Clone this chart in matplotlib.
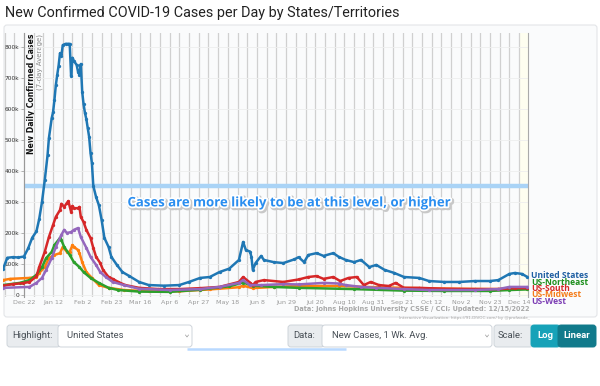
import matplotlib
matplotlib.use("Agg")
import matplotlib.pyplot as plt
import matplotlib.dates as mdates
import matplotlib.patheffects as pe
from matplotlib.patches import FancyBboxPatch
from matplotlib.ticker import FixedLocator, FuncFormatter
import pandas as pd

W, H = 600, 386

# --- data (7-day avg new cases, thousands) ---
us_dates = ["2021-12-07", "2021-12-10", "2021-12-14", "2021-12-18", "2021-12-22", "2021-12-25",
            "2021-12-28", "2021-12-31", "2022-01-02", "2022-01-04", "2022-01-06", "2022-01-08",
            "2022-01-09", "2022-01-11", "2022-01-12", "2022-01-13", "2022-01-14", "2022-01-15",
            "2022-01-16", "2022-01-17", "2022-01-18", "2022-01-19", "2022-01-21", "2022-01-23",
            "2022-01-24", "2022-01-25", "2022-01-26", "2022-01-27", "2022-01-29", "2022-01-30",
            "2022-01-31", "2022-02-01", "2022-02-02", "2022-02-03", "2022-02-04", "2022-02-05",
            "2022-02-06", "2022-02-07", "2022-02-08", "2022-02-09", "2022-02-10", "2022-02-12",
            "2022-02-14", "2022-02-16", "2022-02-18", "2022-02-21", "2022-02-23", "2022-02-27",
            "2022-03-03", "2022-03-08", "2022-03-15", "2022-03-22", "2022-04-02", "2022-04-13",
            "2022-04-20", "2022-04-28", "2022-05-05", "2022-05-12", "2022-05-19", "2022-05-26",
            "2022-05-29", "2022-05-31", "2022-06-03", "2022-06-04", "2022-06-05", "2022-06-07",
            "2022-06-11", "2022-06-13", "2022-06-20", "2022-06-27", "2022-07-05", "2022-07-08",
            "2022-07-12", "2022-07-15", "2022-07-21", "2022-07-26", "2022-08-02", "2022-08-06",
            "2022-08-11", "2022-08-17", "2022-08-22", "2022-08-28", "2022-09-02", "2022-09-08",
            "2022-09-15", "2022-09-22", "2022-10-03", "2022-10-10", "2022-10-21", "2022-11-01",
            "2022-11-12", "2022-11-23", "2022-11-29", "2022-12-07", "2022-12-11", "2022-12-16",
            "2022-12-20"]
us_cases = [85, 120, 122, 121, 124, 150,
            185, 205, 245, 300, 370, 450,
            506, 570, 590, 630, 677, 710,
            740, 780, 772, 806, 810, 810,
            810, 706, 765, 755, 742, 720,
            710, 745, 655, 615, 587, 567,
            538, 510, 458, 425, 352, 316,
            290, 242, 184, 155, 123, 97,
            74, 61, 42, 32, 30, 32,
            42, 55, 58, 74, 85, 113,
            171, 145, 140, 123, 81, 103,
            126, 113, 106, 103, 115, 122,
            106, 129, 135, 126, 135, 123,
            113, 106, 113, 90, 97, 81,
            71, 58, 55, 45, 42, 42,
            45, 45, 48, 68, 71, 68,
            58]

south_dates = ["2021-12-07", "2021-12-14", "2021-12-21", "2021-12-26", "2021-12-31", "2022-01-02",
               "2022-01-06", "2022-01-09", "2022-01-12", "2022-01-14", "2022-01-17", "2022-01-18",
               "2022-01-20", "2022-01-22", "2022-01-23", "2022-01-25", "2022-01-26", "2022-01-27",
               "2022-01-30", "2022-01-31", "2022-02-01", "2022-02-03", "2022-02-05", "2022-02-08",
               "2022-02-10", "2022-02-12", "2022-02-15", "2022-02-17", "2022-02-21", "2022-02-24",
               "2022-02-28", "2022-03-05", "2022-03-15", "2022-03-29", "2022-04-13", "2022-04-28",
               "2022-05-12", "2022-05-26", "2022-05-29", "2022-06-03", "2022-06-05", "2022-06-07",
               "2022-06-13", "2022-06-27", "2022-07-08", "2022-07-15", "2022-07-21", "2022-07-26",
               "2022-08-02", "2022-08-07", "2022-08-13", "2022-08-19", "2022-08-24", "2022-08-29",
               "2022-09-04", "2022-09-11", "2022-09-16", "2022-09-22", "2022-10-03", "2022-10-21",
               "2022-11-12", "2022-11-29", "2022-12-11", "2022-12-20"]
south_cases = [30, 35, 38, 42, 60, 90,
               139, 187, 226, 252, 274, 294,
               284, 297, 303, 268, 287, 280,
               280, 284, 252, 235, 210, 184,
               152, 123, 103, 81, 58, 52,
               42, 32, 23, 19, 19, 22,
               26, 42, 58, 40, 32, 42,
               48, 42, 50, 58, 61, 52,
               58, 45, 55, 58, 32, 42,
               32, 29, 39, 23, 23, 20,
               19, 19, 22, 22]

midwest_dates = ["2021-12-07", "2021-12-12", "2021-12-26", "2021-12-31", "2022-01-02", "2022-01-06",
                 "2022-01-09", "2022-01-13", "2022-01-17", "2022-01-19", "2022-01-22", "2022-01-24",
                 "2022-01-26", "2022-01-27", "2022-01-30", "2022-01-31", "2022-02-02", "2022-02-05",
                 "2022-02-09", "2022-02-14", "2022-02-21", "2022-03-04", "2022-03-22", "2022-04-13",
                 "2022-05-05", "2022-05-26", "2022-05-29", "2022-06-05", "2022-06-20", "2022-07-08",
                 "2022-08-06", "2022-09-02", "2022-10-03", "2022-11-01", "2022-11-29", "2022-12-20"]
midwest_cases = [48, 52, 55, 58, 71, 90,
                 119, 129, 135, 155, 139, 139,
                 161, 155, 145, 135, 106, 74,
                 55, 32, 23, 16, 12, 12,
                 18, 25, 30, 22, 26, 29,
                 29, 25, 22, 20, 19, 21]

northeast_dates = ["2021-12-07", "2021-12-19", "2021-12-26", "2021-12-31", "2022-01-04", "2022-01-07",
                   "2022-01-11", "2022-01-13", "2022-01-17", "2022-01-18", "2022-01-20", "2022-01-24",
                   "2022-01-27", "2022-01-31", "2022-02-03", "2022-02-08", "2022-02-14", "2022-02-21",
                   "2022-02-28", "2022-03-15", "2022-04-06", "2022-04-28", "2022-05-19", "2022-05-29",
                   "2022-06-05", "2022-06-20", "2022-07-08", "2022-08-17", "2022-09-22", "2022-10-21",
                   "2022-11-23", "2022-12-07", "2022-12-20"]
northeast_cases = [32, 39, 48, 65, 90, 119,
                   139, 161, 184, 177, 155, 129,
                   106, 90, 74, 55, 39, 23,
                   16, 11, 10, 17, 28, 40,
                   30, 26, 23, 19, 14, 13,
                   13, 16, 18]

west_dates = ["2021-12-07", "2021-12-26", "2021-12-31", "2022-01-04", "2022-01-07", "2022-01-11",
              "2022-01-14", "2022-01-18", "2022-01-20", "2022-01-22", "2022-01-25", "2022-01-27",
              "2022-01-30", "2022-02-01", "2022-02-05", "2022-02-08", "2022-02-12", "2022-02-15",
              "2022-02-19", "2022-02-24", "2022-03-04", "2022-03-15", "2022-04-06", "2022-04-28",
              "2022-05-12", "2022-05-26", "2022-05-29", "2022-06-03", "2022-06-11", "2022-06-27",
              "2022-07-08", "2022-07-26", "2022-08-06", "2022-08-11", "2022-08-22", "2022-09-02",
              "2022-09-22", "2022-10-10", "2022-11-12", "2022-11-29", "2022-12-07", "2022-12-20"]
west_cases = [23, 26, 39, 55, 81, 119,
              155, 194, 210, 200, 203, 210,
              216, 187, 152, 123, 97, 74,
              58, 42, 32, 20, 16, 19,
              26, 39, 48, 32, 32, 35,
              34, 39, 37, 32, 26, 23,
              19, 16, 16, 19, 26, 26]

level_line = 352  # thousands
series = [
    ("US-Midwest", midwest_dates, midwest_cases, "#ff7f0e"),
    ("US-Northeast", northeast_dates, northeast_cases, "#2ca02c"),
    ("US-South", south_dates, south_cases, "#d62728"),
    ("US-West", west_dates, west_cases, "#9467bd"),
    ("United States", us_dates, us_cases, "#1f77b4"),
]
legend_order = ["United States", "US-Northeast", "US-South", "US-Midwest", "US-West"]
legend_colors = {"United States": "#1f5fa3", "US-Northeast": "#1e8f1e", "US-South": "#d62728",
                 "US-Midwest": "#f57d1a", "US-West": "#7d3fb5"}

fig = plt.figure(figsize=(W / 100, H / 100), dpi=100)
fig.patch.set_facecolor("white")

# background / page elements in pixel coordinates
bg = fig.add_axes([0, 0, 1, 1], zorder=0)
bg.set_xlim(0, W)
bg.set_ylim(H, 0)
bg.axis("off")

bg.text(5, 13, "New Confirmed COVID-19 Cases per Day by States/Territories",
        fontsize=10.4, family="Roboto", color="#222222", va="center", ha="left")
bg.add_patch(FancyBboxPatch((4, 25), 593, 292, boxstyle="round,pad=0,rounding_size=3",
                            fc="#fafbfc", ec="#e3e5e8", lw=0.8))

# control bar
def ctl(x0, x1, fc, ec):
    bg.add_patch(FancyBboxPatch((x0, 325), x1 - x0, 22, boxstyle="round,pad=0,rounding_size=3",
                                fc=fc, ec=ec, lw=0.7))

ctl(7, 60, "#e9ecef", "#ced4da")
ctl(58, 192, "white", "#ced4da")
ctl(288, 324, "#e9ecef", "#ced4da")
ctl(322, 492, "white", "#ced4da")
ctl(494, 533, "#e9ecef", "#ced4da")
ctl(531, 560, "#17a2b8", "#17a2b8")
ctl(558, 596, "#117a8b", "#117a8b")
ui = dict(fontsize=6.8, family="Roboto", va="center", color="#495057")
bg.text(12, 336, "Highlight:", **ui)
bg.text(67, 336, "United States", **ui)
bg.text(293, 336, "Data:", **ui)
bg.text(332, 336, "New Cases, 1 Wk. Avg.", **ui)
bg.text(498, 336, "Scale:", **ui)
bg.text(545, 336, "Log", fontsize=6.8, family="Roboto", va="center", ha="center",
        color="white", weight="bold")
bg.text(577, 336, "Linear", fontsize=6.8, family="Roboto", va="center", ha="center",
        color="white", weight="bold")
for cx in (187, 487):
    bg.plot([cx - 1.5, cx, cx + 1.5], [335, 337, 335], color="#999999", lw=0.5)
bg.plot([187, 346], [349, 349], color="#b9d9ff", lw=1.8, solid_capstyle="butt")

# y label
bg.text(32, 34, "New Daily Confirmed Cases", rotation=90, ha="center", va="top",
        fontsize=5.6, weight="bold", color="#111111")
bg.text(40, 34, "(7-day Average)", rotation=90, ha="center", va="top",
        fontsize=5.0, color="#8a8a8a")

# main chart
ax = fig.add_axes([3 / W, 1 - 297 / H, 525 / W, 264 / H], zorder=2)
ax.set_facecolor("none")
base = pd.Timestamp("2021-12-22")
x_left = base - pd.Timedelta(days=15.1)
x_right = base + pd.Timedelta(days=363.4)
ax.set_xlim(x_left, x_right)
ax.set_ylim(-6.5, 845)

ax.axvspan(pd.Timestamp("2022-12-14"), x_right, color="#fefef0", zorder=0, lw=0)

major = pd.date_range("2021-12-22", "2022-12-14", freq="21D")
minor = pd.date_range("2021-12-08", "2022-12-14", freq="7D")
ax.xaxis.set_major_locator(FixedLocator(mdates.date2num(major)))
ax.xaxis.set_minor_locator(FixedLocator(mdates.date2num(minor)))
ax.xaxis.set_major_formatter(FuncFormatter(
    lambda v, _: mdates.num2date(v).strftime("%b ") + str(mdates.num2date(v).day)))
ax.tick_params(axis="x", which="both", length=0, labelsize=4.6, labelcolor="#9a9a9a", pad=2.5)
ax.grid(axis="x", which="both", color="#d0d0d0", lw=0.9, zorder=0)

ax.set_yticks(range(0, 801, 100))
ax.set_yticklabels(["0"] + [f"{v}k" for v in range(100, 801, 100)])
ax.tick_params(axis="y", length=2.5, width=0.5, color="#999999", labelsize=4.2,
               labelcolor="#333333", pad=1)
ax.grid(axis="y", color="#eeeeee", lw=0.6, zorder=0)
ax.set_axisbelow(True)

for side in ("top", "bottom"):
    ax.spines[side].set_visible(False)
ax.spines["left"].set_position(("data", mdates.date2num(base)))
ax.spines["left"].set_color("#999999")
ax.spines["left"].set_linewidth(0.8)
ax.spines["right"].set_color("#aaaaaa")
ax.spines["right"].set_linewidth(0.8)

ax.hlines(level_line, base, x_right, color="#a9d3f6", lw=3.2, zorder=1)
ax.text(pd.Timestamp("2022-07-02"), 297, "Cases are more likely to be at this level, or higher",
        ha="center", va="center", fontsize=9.5, weight="bold", family="Open Sans",
        color="#2a8ef0", zorder=6,
        path_effects=[pe.Stroke(linewidth=3.5, foreground="#c8c8c8", offset=(1, -1)),
                      pe.Stroke(linewidth=2.5, foreground="white"), pe.Normal()])

for i, (name, d, v, c) in enumerate(series):
    ax.plot(pd.to_datetime(d), v, color=c, lw=1.8, marker="o", ms=2.4, mew=0,
            zorder=3 + i * 0.1, clip_on=True)

# right-side labels
for i, name in enumerate(legend_order):
    fig.text(531 / W, 1 - (276 + i * 6.3) / H, name, fontsize=6.1, weight="bold",
             color=legend_colors[name], va="center", ha="left", family="Open Sans")

fig.text(530 / W, 1 - 309 / H, "Data: Johns Hopkins University CSSE / CCI; Updated: 12/15/2022",
         ha="right", va="center", fontsize=4.7, color="#a8a8a8", weight="bold")
fig.text(530 / W, 1 - 318 / H, "Interactive Visualization: https://91-DIVOC.com/ by @profwade_",
         ha="right", va="center", fontsize=3.0, color="#a8a8a8")

fig.savefig("out.png", dpi=100)
